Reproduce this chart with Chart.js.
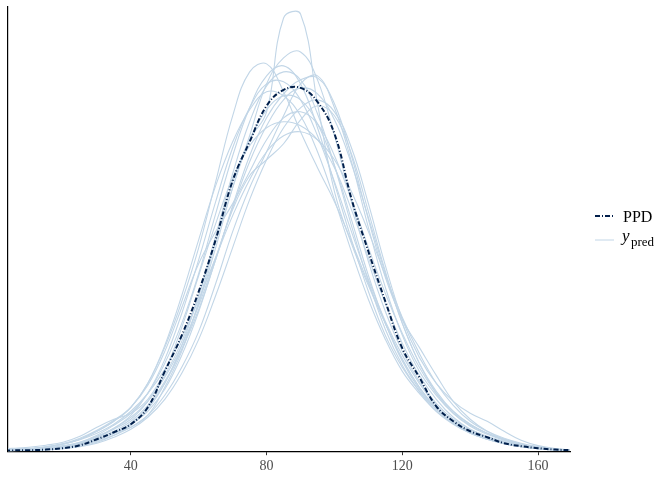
<!DOCTYPE html>
<html lang="en">
<head>
  <meta charset="UTF-8" />
  <title>PPD density overlay</title>
  <script src="https://cdn.jsdelivr.net/npm/chart.js"></script>
  <style>
    body {
      margin: 0;
      padding: 0;
      background: #fff;
    }
    .wrap {
      width: 672px;
      height: 480px;
    }
  </style>
</head>
<body>
  <div class="wrap"><canvas id="dens"></canvas></div>

  <script>
    // density estimates (x 1000) on a grid of x values
    const xGrid = [0, 5, 10, 15, 20, 25, 30, 35, 40, 45, 50, 55, 60, 65, 70, 75, 80, 85,
      90, 95, 100, 105, 110, 115, 120, 125, 130, 135, 140, 145, 150, 155, 160, 165, 170];
    const xTicks = [40, 80, 120, 160];

    const ppd = [0.03, 0.04, 0.05, 0.08, 0.15, 0.3, 0.6, 0.95, 1.35, 2.2, 4.0, 5.8, 8.0, 10.6, 13.55, 15.5, 17.3, 18.1,
      18.2, 17.5, 15.9, 12.65, 10.0, 7.5, 5.15, 3.7, 2.25, 1.5, 1.0, 0.7, 0.4, 0.25, 0.15, 0.08, 0.05];

    const predA = [0.02, 0.03, 0.05, 0.1, 0.2, 0.35, 0.6, 0.9, 1.2, 1.8, 3.2, 5.0, 7.5, 10.5, 13.5, 15.6, 17.0, 21.7,
      21.9, 17.4, 13.0, 10.4, 8.3, 6.4, 4.6, 3.2, 2.2, 1.5, 1.0, 0.7, 0.45, 0.3, 0.15, 0.08, 0.04];
    const predB = [0.03, 0.05, 0.08, 0.15, 0.25, 0.4, 0.7, 1.1, 1.6, 2.5, 3.8, 5.5, 7.8, 10.5, 13.2, 15.8, 18.4, 19.7,
      20.0, 18.6, 15.8, 12.5, 9.5, 7.0, 5.0, 3.5, 2.4, 1.6, 1.1, 0.75, 0.5, 0.3, 0.18, 0.1, 0.05];
    const predC = [0.05, 0.08, 0.12, 0.2, 0.35, 0.6, 1.0, 1.5, 2.2, 3.4, 5.2, 7.5, 10.2, 13.5, 16.8, 19.0, 19.4, 18.0,
      16.0, 14.2, 12.5, 10.5, 8.4, 6.4, 4.6, 3.2, 2.1, 1.4, 0.9, 0.6, 0.4, 0.25, 0.15, 0.08, 0.04];
    const predD = [0.02, 0.03, 0.05, 0.08, 0.15, 0.3, 0.5, 0.8, 1.2, 1.8, 2.8, 4.2, 6.0, 8.4, 11.0, 13.2, 15.0, 16.8,
      18.4, 18.8, 17.2, 14.5, 11.2, 8.2, 5.8, 4.0, 2.8, 1.9, 1.3, 0.9, 0.6, 0.35, 0.2, 0.1, 0.05];
    const predE = [0.03, 0.05, 0.08, 0.14, 0.25, 0.45, 0.8, 1.3, 1.9, 2.9, 4.4, 6.4, 8.9, 11.9, 14.8, 17.2, 18.8, 19.3,
      18.4, 16.2, 13.4, 10.6, 8.0, 5.8, 4.2, 3.0, 2.1, 1.4, 0.95, 0.6, 0.38, 0.22, 0.12, 0.06, 0.03];
    const predF = [0.04, 0.06, 0.1, 0.16, 0.28, 0.45, 0.75, 1.15, 1.7, 2.5, 3.7, 5.3, 7.3, 9.7, 12.2, 14.5, 16.3, 17.6,
      18.2, 17.9, 16.6, 14.4, 11.7, 8.9, 6.4, 4.4, 2.9, 1.9, 1.25, 0.85, 0.55, 0.32, 0.18, 0.1, 0.05];
    const predG = [0.05, 0.08, 0.13, 0.22, 0.38, 0.65, 1.05, 1.55, 2.2, 3.3, 5.0, 7.2, 9.4, 11.0, 12.4, 14.0, 15.6, 16.7,
      17.0, 16.4, 14.8, 12.6, 10.2, 7.9, 5.9, 4.2, 2.9, 2.0, 1.35, 0.9, 0.58, 0.35, 0.2, 0.1, 0.05];
    const predH = [0.02, 0.04, 0.07, 0.12, 0.22, 0.4, 0.7, 1.15, 1.8, 2.9, 4.6, 6.9, 9.6, 12.5, 15.2, 17.2, 18.4, 18.5,
      17.6, 15.8, 13.5, 11.0, 8.6, 6.5, 4.8, 3.4, 2.3, 1.5, 1.0, 0.65, 0.4, 0.24, 0.13, 0.07, 0.03];
    const predI = [0.01, 0.02, 0.04, 0.07, 0.12, 0.22, 0.4, 0.7, 1.1, 1.7, 2.6, 3.9, 5.6, 7.8, 10.2, 12.6, 14.6, 16.2,
      17.2, 17.6, 17.0, 15.2, 12.4, 9.3, 6.6, 4.7, 3.4, 2.5, 1.9, 1.5, 1.0, 0.55, 0.28, 0.13, 0.06];
    const predJ = [0.1, 0.14, 0.2, 0.3, 0.45, 0.75, 1.2, 1.6, 1.9, 2.6, 4.0, 6.2, 8.8, 11.4, 13.7, 15.3, 16.2, 16.5,
      16.3, 15.6, 14.2, 12.1, 9.7, 7.4, 5.4, 3.8, 2.6, 1.7, 1.1, 0.7, 0.45, 0.28, 0.16, 0.09, 0.05];
    const predK = [0.02, 0.03, 0.05, 0.09, 0.16, 0.3, 0.55, 0.9, 1.4, 2.2, 3.4, 5.1, 7.4, 10.2, 13.2, 15.6, 17.1, 17.8,
      17.6, 16.4, 14.3, 11.6, 8.8, 6.4, 4.5, 3.1, 2.1, 1.4, 0.95, 0.65, 0.42, 0.26, 0.15, 0.08, 0.04];
    const predL = [0.03, 0.05, 0.08, 0.13, 0.22, 0.38, 0.65, 1.0, 1.5, 2.3, 3.5, 5.1, 7.1, 9.6, 12.3, 14.8, 16.7, 17.9,
      18.6, 18.7, 17.4, 14.8, 11.6, 8.7, 6.6, 5.2, 3.8, 2.5, 1.6, 1.0, 0.6, 0.36, 0.2, 0.1, 0.05];
    const predM = [0.06, 0.09, 0.14, 0.22, 0.36, 0.58, 0.9, 1.35, 2.0, 2.9, 4.1, 5.7, 7.6, 9.7, 11.8, 13.6, 15.0, 15.8,
      16.0, 15.6, 14.6, 13.0, 11.0, 8.8, 6.7, 4.9, 3.4, 2.3, 1.5, 1.0, 0.65, 0.4, 0.23, 0.12, 0.06];
    const predN = [0.05, 0.08, 0.12, 0.2, 0.35, 0.6, 1.0, 1.5, 2.2, 3.4, 5.3, 7.8, 10.6, 13.3, 15.5, 17.1, 18.0, 17.8,
      16.8, 15.0, 12.6, 10.0, 7.6, 5.6, 4.0, 2.9, 2.0, 1.4, 0.95, 0.62, 0.4, 0.24, 0.13, 0.07, 0.03];
    const predO = [0.02, 0.03, 0.06, 0.1, 0.18, 0.32, 0.55, 0.9, 1.35, 2.0, 3.1, 4.8, 7.0, 9.6, 12.1, 13.8, 14.6, 15.4,
      16.6, 17.3, 16.8, 14.9, 12.0, 9.0, 6.4, 4.4, 3.0, 2.0, 1.35, 0.9, 0.58, 0.35, 0.2, 0.1, 0.05];
    const predP = [0.02, 0.03, 0.05, 0.08, 0.14, 0.25, 0.45, 0.8, 1.3, 2.1, 3.4, 5.3, 7.8, 10.8, 13.9, 16.5, 18.3, 19.0,
      18.6, 16.9, 14.3, 11.3, 8.5, 6.1, 4.3, 3.0, 2.0, 1.35, 0.9, 0.6, 0.38, 0.22, 0.12, 0.06, 0.03];

    const predDraws = [predA, predB, predC, predD, predE, predF, predG, predH,
      predI, predJ, predK, predL, predM, predN, predO, predP];

    const darkColor = '#011f4b';
    const lightColor = '#c2d6e7';
    const serif = '"Liberation Serif", "DejaVu Serif", serif';

    function toPoints(vals) {
      return vals.map((v, i) => ({ x: xGrid[i], y: v }));
    }

    const datasets = [{
      label: 'PPD',
      data: toPoints(ppd),
      borderColor: darkColor,
      borderWidth: 2,
      borderDash: [5, 2, 1, 2],
      pointRadius: 0,
      fill: false,
      tension: 0.4
    }];
    predDraws.forEach((d, i) => {
      datasets.push({
        label: 'y_pred ' + (i + 1),
        data: toPoints(d),
        borderColor: lightColor,
        borderWidth: 1.1,
        pointRadius: 0,
        fill: false,
        tension: 0.4
      });
    });

    // legend drawn by hand so the subscript works
    const legendPlugin = {
      id: 'ppdLegend',
      afterDraw(chart) {
        const ctx = chart.ctx;
        ctx.save();
        ctx.lineWidth = 2;
        ctx.strokeStyle = darkColor;
        ctx.setLineDash([5, 2, 1, 2]);
        ctx.beginPath();
        ctx.moveTo(595, 216);
        ctx.lineTo(614, 216);
        ctx.stroke();
        ctx.setLineDash([]);
        ctx.lineWidth = 1;
        ctx.strokeStyle = lightColor;
        ctx.beginPath();
        ctx.moveTo(595, 240);
        ctx.lineTo(614, 240);
        ctx.stroke();

        ctx.fillStyle = '#000';
        ctx.textBaseline = 'alphabetic';
        ctx.font = '16px ' + serif;
        ctx.fillText('PPD', 623, 222);
        ctx.font = 'italic 17px ' + serif;
        ctx.fillText('y', 622, 241);
        ctx.font = '13px ' + serif;
        ctx.fillText('pred', 631, 246);
        ctx.restore();
      }
    };

    new Chart(document.getElementById('dens'), {
      type: 'line',
      data: { datasets: datasets },
      options: {
        responsive: true,
        maintainAspectRatio: false,
        animation: false,
        layout: { padding: { left: 0, top: 7, right: 102, bottom: 2 } },
        plugins: {
          legend: { display: false },
          tooltip: { enabled: false }
        },
        scales: {
          x: {
            type: 'linear',
            min: 3.8,
            max: 169.4,
            afterBuildTicks: (scale) => {
              scale.ticks = xTicks.map(v => ({ value: v }));
            },
            grid: {
              display: true,
              drawOnChartArea: false,
              drawTicks: true,
              tickLength: 4,
              color: '#333'
            },
            border: { display: true, color: '#000', width: 1.2 },
            ticks: {
              color: '#4d4d4d',
              font: { family: serif, size: 14 },
              padding: 3,
              maxRotation: 0
            }
          },
          y: {
            min: 0,
            max: 22.25,
            grid: { display: false },
            border: { display: true, color: '#000', width: 1.2 },
            ticks: { display: false }
          }
        }
      },
      plugins: [legendPlugin]
    });
  </script>
</body>
</html>
